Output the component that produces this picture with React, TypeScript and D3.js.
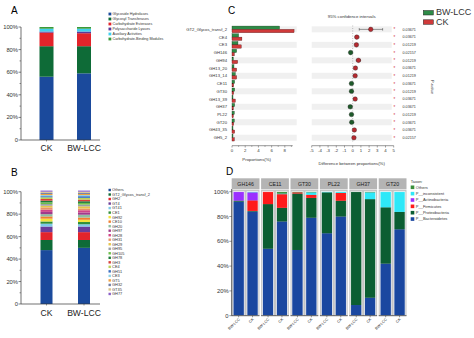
import React from "react";
import * as d3 from "d3";

const FONT = "Liberation Sans, Arial, Helvetica, sans-serif";

// ---------- Panel A ----------
const A_CATS = ["CK", "BW-LCC"];
const A_GROUPS = ["Glycoside Hydrolases", "Glycosyl Transferases", "Carbohydrate Esterases", "Polysaccharide Lyases", "Auxiliary Activities", "Carbohydrate-Binding Modules"];
const A_CK = [56, 27, 12, 1, 2.5, 1.5];
const A_BW = [59, 24, 11.5, 1.5, 2.5, 1.5];
const A_COLORS = ["#1b4a9c", "#0e6b37", "#e3242b", "#5b3a9a", "#3fd0f0", "#3a9a3a"];

// ---------- Panel B ----------
const B_GROUPS = ["Others", "GT2_Glycos_transf_2", "GH2", "GT4", "GT41", "CE1", "GH92", "CE10", "GH20", "GH97", "GH28", "GH31", "GH29", "GH95", "GH105", "GH78", "GH3", "CE4", "GH51", "CE3", "GT5", "GH32", "GT35", "GH77"];
const B_CK = [48, 9, 7, 5, 2.5, 2, 2.5, 2, 2, 2, 2, 2, 1.5, 1.5, 1.5, 1.5, 1.5, 1.5, 1, 1, 1, 1, 1, 1];
const B_BW = [50, 7, 7, 5, 2, 2, 2, 2, 2.5, 2, 2, 1.5, 2, 1.5, 1.5, 1.5, 1.5, 1.5, 1.5, 1, 1, 1, 1, 1];
const B_COLORS = ["#1b4a9c", "#0e6b37", "#e3242b", "#6a3d9a", "#7ecbe8", "#2f8f3a", "#f5e33b", "#f08030", "#8fbfa0", "#a03b8c", "#d0458a", "#e8936a", "#e6c54a", "#9aa0a6", "#6cbf4a", "#1e7a3c", "#d9403a", "#b9d35a", "#3a6fc2", "#8fd3e8", "#f0a040", "#6f7fa8", "#d8c28a", "#8a5fc8"];

// ---------- Panel C ----------
const C_FEATURES = ["GT2_Glycos_transf_2", "CE4", "CE3", "GH146", "GH94", "GH13_20", "GH13_14", "CE11", "GT30", "GH13_39", "GH37", "PL22", "GT20", "GH43_35", "GH5_2"];
const C_BW = [7.2, 1.0, 0.9, 0.7, 0.2, 0.3, 0.5, 0.4, 0.4, 0.15, 0.4, 0.35, 0.35, 0.15, 0.15];
const C_CK = [9.4, 1.5, 1.4, 0.35, 0.85, 0.7, 0.7, 0.25, 0.25, 0.5, 0.2, 0.2, 0.25, 0.4, 0.35];
const C_DIFF = [2.2, 0.5, 0.45, -0.25, 0.7, 0.33, 0.3, -0.15, -0.15, 0.3, -0.3, -0.15, -0.12, 0.2, 0.15];
const C_LO = [0.8, 0.3, 0.3, -0.4, 0.45, 0.2, 0.15, -0.25, -0.25, 0.15, -0.5, -0.25, -0.22, 0.1, 0.05];
const C_HI = [3.65, 0.75, 0.6, -0.1, 0.95, 0.45, 0.45, -0.05, -0.05, 0.45, -0.1, -0.05, -0.02, 0.3, 0.25];
const C_P = ["0.03671", "0.03671", "0.01219", "0.02157", "0.01219", "0.03671", "0.01219", "0.03671", "0.01219", "0.03671", "0.03671", "0.01219", "0.03671", "0.03671", "0.02157"];
const C_LEFT_TICKS = [0, 1, 2, 3, 4, 5, 6, 7, 8, 9];
const C_RIGHT_TICKS = [-5, -4, -3, -2, -1, 0, 1, 2, 3, 4, 5];

// ---------- Panel D ----------
const D_GENES = ["GH146", "CE11", "GT30", "PL22", "GH37", "GT20"];
const D_SAMPLES = ["BW-LCC", "CK"];
const D_TAXA = ["P__Bacteroidetes", "P__Proteobacteria", "P__Firmicutes", "P__Actinobacteria", "P__inconsistent", "Others"];
const D_COLORS = ["#1a47a0", "#0b5e32", "#ff1a1a", "#9b30ff", "#2ee8f8", "#3a8f3a"];
const D_BW = [
  [92, 0.8, 0, 7.2, 0, 0],
  [54, 36, 10, 0, 0, 0],
  [53, 45.5, 1, 0, 0, 0.5],
  [66.5, 33, 0, 0, 0.5, 0],
  [8.6, 91.4, 0, 0, 0, 0],
  [42, 45.4, 0, 0, 12.6, 0],
];
const D_CK = [
  [84, 0.5, 8.5, 6.5, 0.5, 0],
  [76, 11, 11, 0, 0.5, 1.5],
  [79, 16, 2.5, 0, 2, 0.5],
  [80, 12.7, 6.3, 0, 1, 0],
  [14.5, 79.5, 0, 0, 5.5, 0.5],
  [69.7, 14, 0, 0, 16.3, 0],
];
const D_YTICKS = [0, 20, 40, 60, 80, 100];

function stackRows(cats: string[], groups: string[], vals: number[][]) {
  const rows = cats.map((c, i) => {
    const o: any = { cat: c };
    groups.forEach((g, j) => (o[g] = vals[i][j]));
    return o;
  });
  return d3.stack().keys(groups)(rows);
}

function pctLabel(v: number) {
  return v === 0 ? "0" : `${v}%`;
}

function StackedPanel({ yTop, yBottom, cats, groups, vals, colors, barW, labelY, letter, letterY }: any) {
  const y = d3.scaleLinear().domain([0, 100]).range([yBottom, yTop]);
  const x = d3.scalePoint().domain(cats).range([46.5, 84]);
  const series = stackRows(cats, groups, vals);
  const major = d3.range(0, 101, 20);
  const minor = d3.range(10, 100, 20);
  return (
    <g>
      <text x={11} y={letterY} fontSize={10} fontFamily={FONT}>{letter}</text>
      {series.map((s: any, gi: number) =>
        s.map((d: any, ci: number) => (
          <rect key={gi + "-" + ci} x={(x(cats[ci]) as number) - barW / 2} width={barW}
            y={y(d[1])} height={Math.max(0, y(d[0]) - y(d[1]))} fill={colors[gi]} />
        ))
      )}
      <line x1={21} x2={21} y1={yTop} y2={yBottom} stroke="#333" strokeWidth={0.7} />
      <line x1={21} x2={100} y1={yBottom} y2={yBottom} stroke="#333" strokeWidth={0.7} />
      {major.map((t) => (
        <g key={"M" + t}>
          <line x1={18.5} x2={21} y1={y(t)} y2={y(t)} stroke="#333" strokeWidth={0.6} />
          <text x={18} y={y(t) + 2} fontSize={5.8} textAnchor="end" fontFamily={FONT} fill="#333">{pctLabel(t)}</text>
        </g>
      ))}
      {minor.map((t) => (
        <line key={"m" + t} x1={19.5} x2={21} y1={y(t)} y2={y(t)} stroke="#333" strokeWidth={0.5} />
      ))}
      {cats.map((c: string) => (
        <g key={c}>
          <line x1={x(c) as number} x2={x(c) as number} y1={yBottom} y2={yBottom + 1.5} stroke="#333" strokeWidth={0.5} />
          <text x={x(c) as number} y={labelY} fontSize={8.6} textAnchor="middle" fontFamily={FONT} fill="#222">{c}</text>
        </g>
      ))}
    </g>
  );
}

function Legend({ x, y0, step, items, colors, size, fontSize }: any) {
  return (
    <g>
      {items.map((it: string, i: number) => (
        <g key={it}>
          <rect x={x} y={y0 + i * step - size / 2} width={size} height={size} fill={colors[i]} />
          <text x={x + size + 1.2} y={y0 + i * step + fontSize * 0.36} fontSize={fontSize} fontFamily={FONT} fill="#333">{it}</text>
        </g>
      ))}
    </g>
  );
}

function PanelC() {
  const yC = d3.scaleBand().domain(C_FEATURES).range([25.5, 141.6]);
  const xL = d3.scaleLinear().domain([0, 9.3]).range([232, 293.4]);
  const xR = d3.scaleLinear().domain([-5, 5]).range([311.7, 393.7]);
  const axY = 145.7;
  const bh = 3.3;
  const green = "#2e8b47";
  const red = "#d03a3a";
  return (
    <g fontFamily={FONT}>
      <text x={228} y={14} fontSize={10}>C</text>
      {C_FEATURES.map((f, i) => {
        const cy = (yC(f) as number) + yC.bandwidth() / 2;
        return (
          <g key={f}>
            {i % 2 === 0 && (
              <>
                <rect x={232} width={64.7} y={cy - 3} height={6} fill="#f0f0f0" />
                <rect x={311.7} width={80} y={cy - 3} height={6} fill="#f0f0f0" />
              </>
            )}
            <text x={227} y={cy + 1.5} fontSize={4.2} textAnchor="end" fill="#333">{f}</text>
          </g>
        );
      })}
      {C_FEATURES.map((f, i) => {
        const cy = (yC(f) as number) + yC.bandwidth() / 2;
        return (
          <g key={"b" + f}>
            <rect x={xL(0)} y={cy - bh} width={xL(C_BW[i]) - xL(0)} height={bh} fill={green} stroke="#1a3a1a" strokeWidth={0.35} />
            <rect x={xL(0)} y={cy} width={xL(C_CK[i]) - xL(0)} height={bh} fill={red} stroke="#4a1010" strokeWidth={0.35} />
          </g>
        );
      })}
      {/* left axis */}
      <line x1={xL(0)} x2={xL(9.2)} y1={axY} y2={axY} stroke="#333" strokeWidth={0.5} />
      {C_LEFT_TICKS.map((t) => (
        <g key={"lt" + t}>
          <line x1={xL(t)} x2={xL(t)} y1={axY} y2={axY + (t % 2 === 0 ? 1.8 : 1.1)} stroke="#333" strokeWidth={0.45} />
          {t % 2 === 0 && <text x={xL(t)} y={axY + 5.8} fontSize={4.3} textAnchor="middle" fill="#333">{t}</text>}
        </g>
      ))}
      <text x={256.7} y={161} fontSize={4.3} textAnchor="middle" fill="#333">Proportions(%)</text>

      {/* right panel */}
      <text x={351.7} y={18.3} fontSize={4.3} textAnchor="middle" fill="#333">95% confidence intervals</text>
      <line x1={xR(0)} x2={xR(0)} y1={25.5} y2={141.6} stroke="#666" strokeWidth={0.4} strokeDasharray="1,1.5" />
      {C_FEATURES.map((f, i) => {
        const cy = (yC(f) as number) + yC.bandwidth() / 2;
        const col = C_DIFF[i] > 0 ? "#b5292f" : "#1e5a2a";
        return (
          <g key={"p" + f}>
            <line x1={xR(C_LO[i])} x2={xR(C_HI[i])} y1={cy} y2={cy} stroke="#333" strokeWidth={0.5} />
            <line x1={xR(C_LO[i])} x2={xR(C_LO[i])} y1={cy - 1.3} y2={cy + 1.3} stroke="#333" strokeWidth={0.5} />
            <line x1={xR(C_HI[i])} x2={xR(C_HI[i])} y1={cy - 1.3} y2={cy + 1.3} stroke="#333" strokeWidth={0.5} />
            <circle cx={xR(C_DIFF[i])} cy={cy} r={2.3} fill={col} stroke="#222" strokeWidth={0.35} />
            <text x={394.5} y={cy + 2} fontSize={4.5} textAnchor="middle" fill="#d03a3a">*</text>
            <text x={402.5} y={cy + 1.3} fontSize={3.7} fill="#333">{C_P[i]}</text>
          </g>
        );
      })}
      <line x1={xR(-5)} x2={xR(5)} y1={axY} y2={axY} stroke="#333" strokeWidth={0.5} />
      {C_RIGHT_TICKS.map((t) => (
        <g key={"rt" + t}>
          <line x1={xR(t)} x2={xR(t)} y1={axY} y2={axY + 1.8} stroke="#333" strokeWidth={0.45} />
          <text x={xR(t)} y={axY + 5.8} fontSize={4.3} textAnchor="middle" fill="#333">{t}</text>
        </g>
      ))}
      <text x={351.7} y={164.5} fontSize={4.3} textAnchor="middle" fill="#333">Difference between proportions(%)</text>
      <text transform="translate(430.5,87) rotate(90)" fontSize={4.2} textAnchor="middle" fill="#333">P-value</text>

      {/* legend */}
      <rect x={423.3} y={10.5} width={10} height={4.5} fill={green} stroke="#222" strokeWidth={0.5} />
      <text x={436} y={15} fontSize={9} fill="#333">BW-LCC</text>
      <rect x={423.3} y={19.8} width={10} height={4.5} fill={red} stroke="#222" strokeWidth={0.5} />
      <text x={436} y={24.6} fontSize={9} fill="#333">CK</text>
    </g>
  );
}

function PanelD() {
  const y = d3.scaleLinear().domain([0, 100]).range([315.7, 191.7]);
  const fx = d3.scaleBand().domain(D_GENES).range([231.7, 406.5]).paddingInner(0.055).paddingOuter(0);
  const bx = d3.scaleBand().domain(D_SAMPLES).range([0, fx.bandwidth()]).paddingInner(0.2).paddingOuter(0.1);
  const stripTop = 178.3;
  const stripBot = 189;
  return (
    <g fontFamily={FONT}>
      <text x={226} y={175} fontSize={10}>D</text>
      {D_GENES.map((g, gi) => {
        const x0 = fx(g) as number;
        const data = [D_BW[gi], D_CK[gi]];
        return (
          <g key={g}>
            <rect x={x0} y={stripTop} width={fx.bandwidth()} height={stripBot - stripTop} fill="#b4b4b4" />
            <text x={x0 + fx.bandwidth() / 2} y={stripBot - 3} fontSize={5.2} textAnchor="middle" fill="#1a1a1a">{g}</text>
            <rect x={x0} y={stripBot + 0.5} width={fx.bandwidth()} height={315.7 - stripBot - 0.5} fill="#c4c4c4" />
            {D_SAMPLES.map((s, si) => {
              const cum = d3.cumsum(data[si]);
              const bxs = x0 + (bx(s) as number);
              return (
                <g key={s}>
                  {D_TAXA.map((t, ti) => {
                    const v = data[si][ti];
                    if (v <= 0) return null;
                    const top = cum[ti];
                    const bot = top - v;
                    return (
                      <rect key={t} x={bxs} width={bx.bandwidth()} y={y(top)} height={y(bot) - y(top)} fill={D_COLORS[ti]} />
                    );
                  })}
                  <rect x={bxs} width={bx.bandwidth()} y={y(100)} height={y(0) - y(100)} fill="none" stroke="#ffffff" strokeWidth={0.7} />
                  <line x1={bxs + bx.bandwidth() / 2} x2={bxs + bx.bandwidth() / 2} y1={315.7} y2={317.3} stroke="#333" strokeWidth={0.5} />
                  <text transform={`translate(${bxs + bx.bandwidth() / 2 + 1.5},${319.5}) rotate(-45)`} fontSize={3.8} textAnchor="end" fill="#333">{s}</text>
                </g>
              );
            })}
            <line x1={x0} x2={x0 + fx.bandwidth()} y1={315.7} y2={315.7} stroke="#222" strokeWidth={0.7} />
          </g>
        );
      })}
      <line x1={231.7} x2={231.7} y1={stripBot} y2={315.7} stroke="#222" strokeWidth={0.7} />
      {D_YTICKS.map((t) => (
        <g key={t}>
          <line x1={229.3} x2={231.7} y1={y(t)} y2={y(t)} stroke="#333" strokeWidth={0.5} />
          <text x={228.6} y={y(t) + 2} fontSize={5.8} textAnchor="end" fill="#333">{pctLabel(t)}</text>
        </g>
      ))}
      {/* legend */}
      <text x={410.7} y={183} fontSize={4} fill="#333">Taxon:</text>
      {D_TAXA.slice().reverse().map((t, i) => {
        const ci = D_TAXA.length - 1 - i;
        const cy = 187.3 + i * 6.35;
        return (
          <g key={t}>
            <rect x={410.7} y={cy - 1.8} width={3.6} height={3.6} fill={D_COLORS[ci]} />
            <text x={415.8} y={cy + 1.4} fontSize={4} fill="#333">{t}</text>
          </g>
        );
      })}
    </g>
  );
}

export default function App() {
  return (
    <svg width={474} height={338} style={{ position: "absolute", left: 0, top: 0, background: "#fff" }}>
      <rect width={474} height={338} fill="#fff" />
      <StackedPanel yTop={27} yBottom={140} cats={A_CATS} groups={A_GROUPS} vals={[A_CK, A_BW]} colors={A_COLORS}
        barW={14} labelY={151} letter="A" letterY={14} />
      <Legend x={108.5} y0={14} step={5} items={A_GROUPS} colors={A_COLORS} size={2.8} fontSize={3.7} />
      <StackedPanel yTop={191.7} yBottom={304} cats={A_CATS} groups={B_GROUPS} vals={[B_CK, B_BW]} colors={B_COLORS}
        barW={12} labelY={315.5} letter="B" letterY={176} />
      <Legend x={108.5} y0={190} step={4.52} items={B_GROUPS} colors={B_COLORS} size={2.4} fontSize={3.9} />
      <PanelC />
      <PanelD />
    </svg>
  );
}
